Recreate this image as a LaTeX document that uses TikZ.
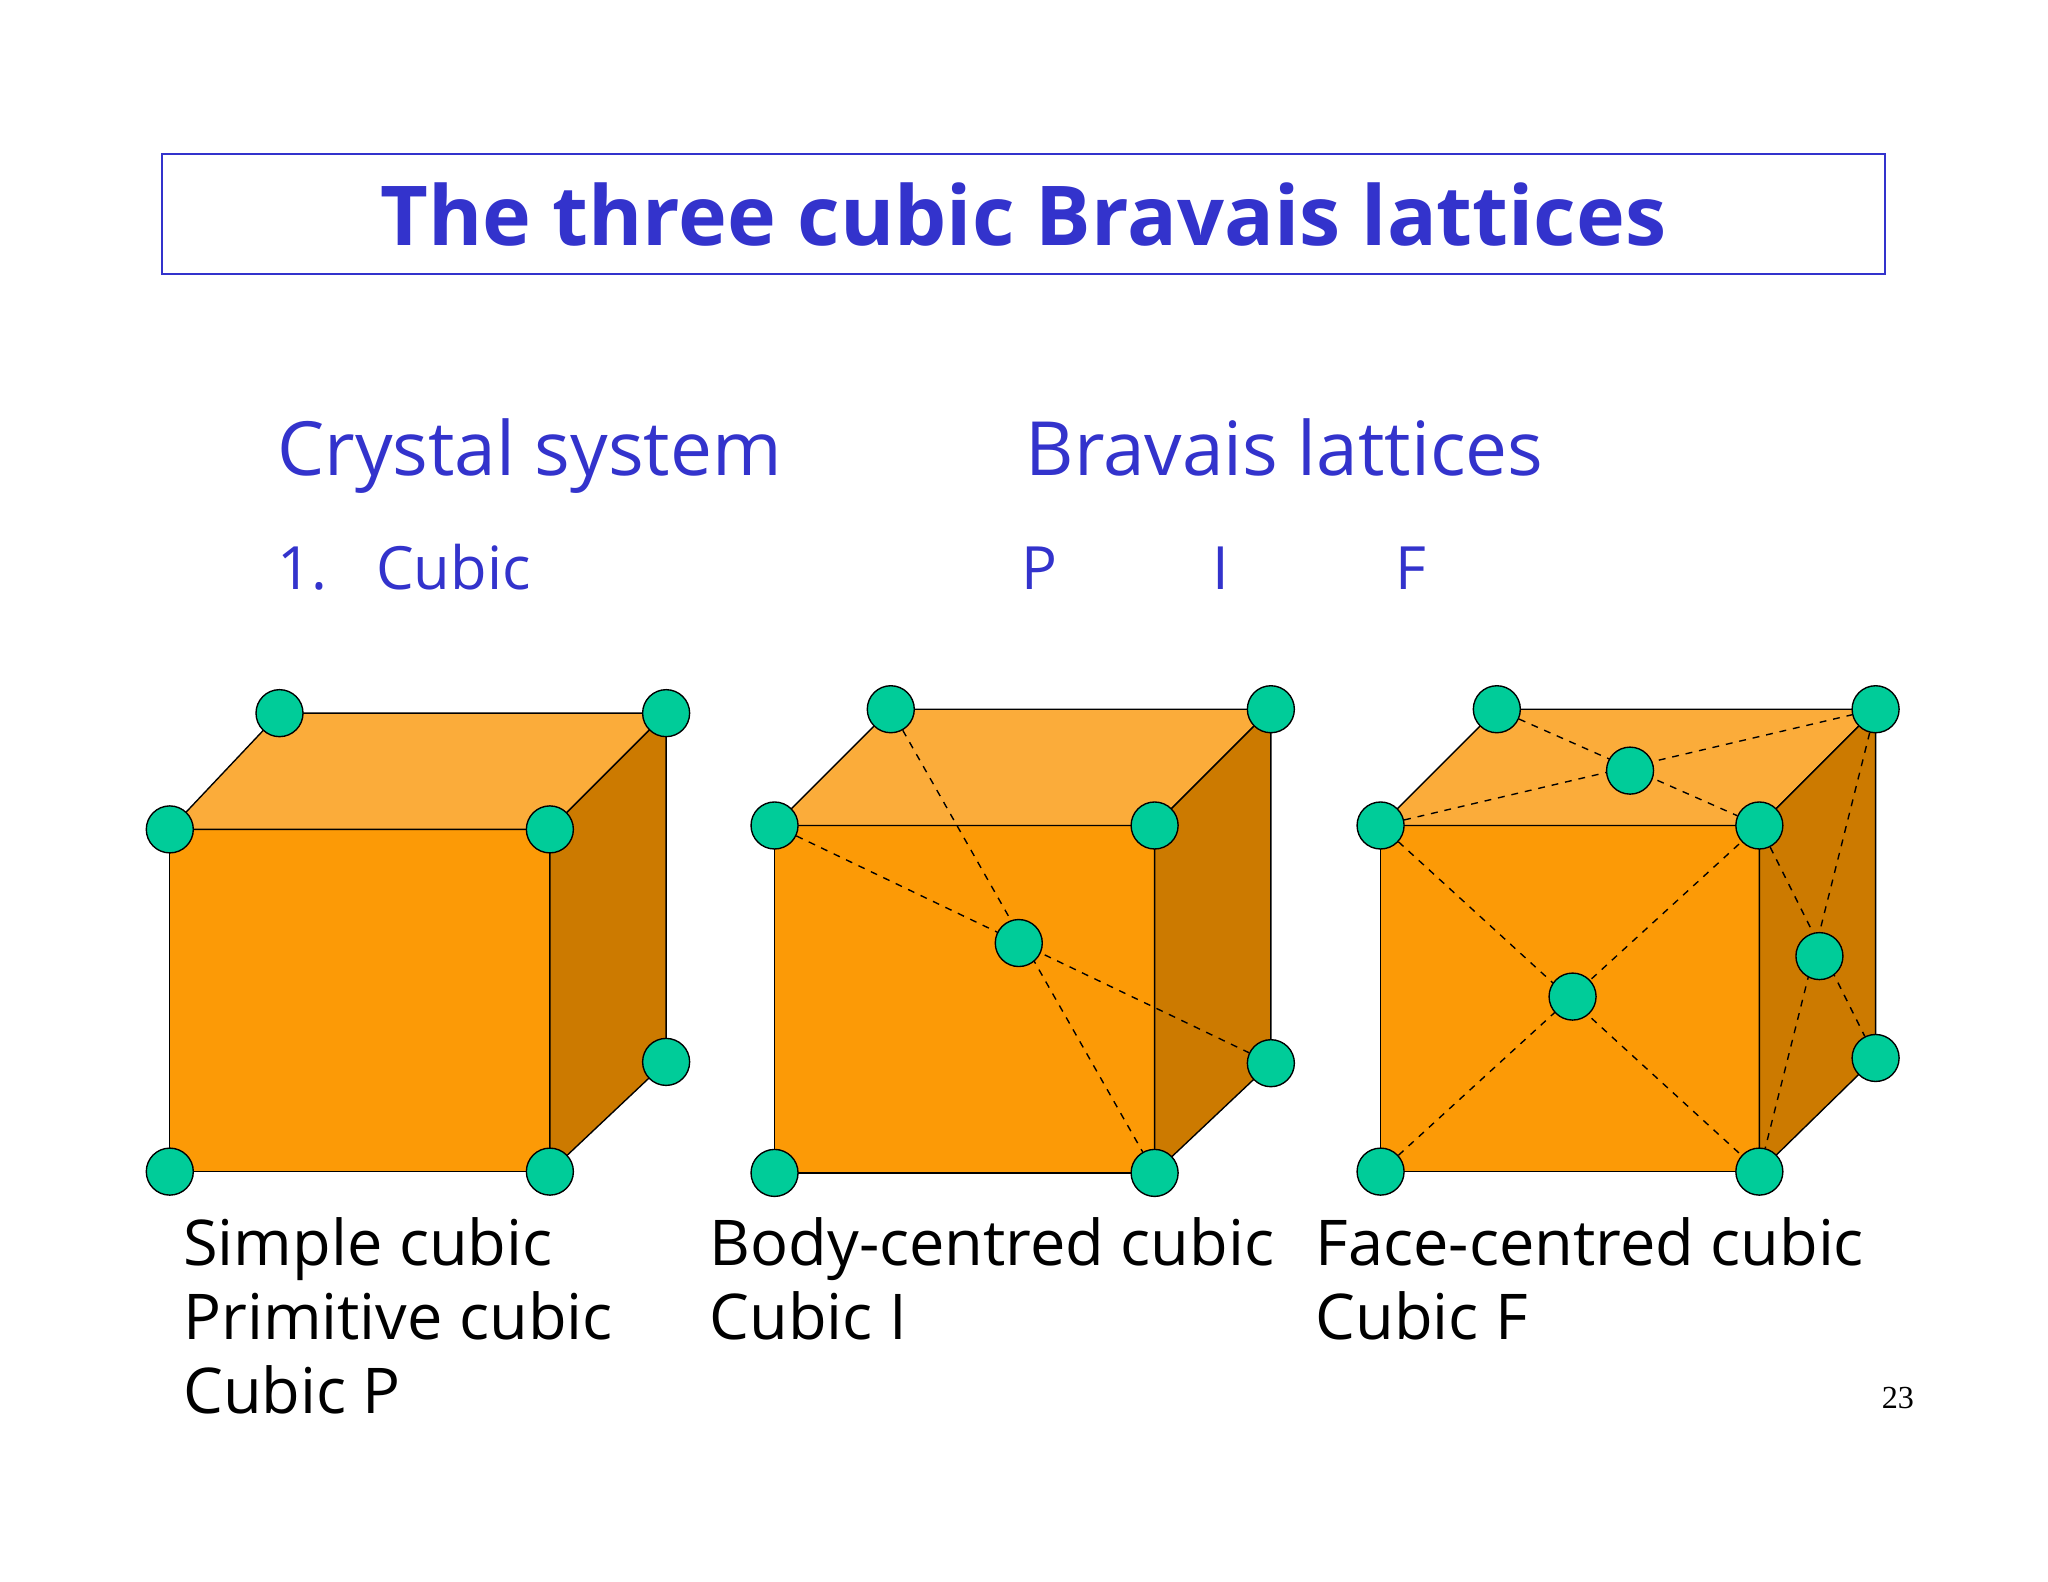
\documentclass[tikz,border=0pt]{standalone}
\usepackage{fontspec}
\setmainfont{Open Sans}
\newfontfamily\serif{Liberation Serif}
\definecolor{tblue}{HTML}{3333CC}
\definecolor{ofront}{HTML}{FC9A06}
\definecolor{otop}{HTML}{FBAC3A}
\definecolor{oside}{HTML}{CC7A00}
\definecolor{atomc}{HTML}{00CC99}
\begin{document}
\begin{tikzpicture}[x=0.02cm,y=-0.02cm,
  atom/.style={circle,draw=black,fill=atomc,minimum size=0.72cm,inner sep=0pt,line width=0.6pt},
  face/.style={draw=black,line width=0.6pt},
  dsh/.style={dashed,line width=0.6pt},
  lab/.style={anchor=north west,align=left,font=\fontsize{27.5}{32.3}\selectfont,inner sep=0pt}]
\useasboundingbox[fill=white] (0,0) rectangle (1568,1211);
% title
\node[draw=tblue,line width=0.8pt,minimum width=26.38cm,minimum height=1.84cm,text=tblue,font=\fontsize{36}{42}\selectfont\bfseries] (title) at (783.5,164) {The three cubic Bravais lattices};
\node[anchor=base west,text=tblue,font=\fontsize{32.6}{38}\selectfont,inner sep=0pt] (cs) at (212,364) {Crystal system};
\node[anchor=base west,text=tblue,font=\fontsize{32.6}{38}\selectfont,inner sep=0pt] (bl) at (785,364) {Bravais lattices};
\node[anchor=base west,text=tblue,font=\fontsize{26}{32}\selectfont,inner sep=0pt] (c1) at (212,451) {1.\hspace{0.75cm}Cubic};
\node[anchor=base west,text=tblue,font=\fontsize{26}{32}\selectfont,inner sep=0pt] (lp) at (782,451) {P};
\node[anchor=base west,text=tblue,font=\fontsize{26}{32}\selectfont,inner sep=0pt] (li) at (928,451) {I};
\node[anchor=base west,text=tblue,font=\fontsize{26}{32}\selectfont,inner sep=0pt] (lf) at (1068,451) {F};
% cube 1
\fill[ofront,face] (130,635) rectangle (421,897);
\filldraw[fill=otop,face] (130,635) -- (214,546) -- (510,546) -- (421,635) -- cycle;
\filldraw[fill=oside,face] (421,635) -- (510,546) -- (510,813) -- (421,897) -- cycle;
\node[atom] (a1) at (130,635) {}; \node[atom] (a2) at (421,635) {};
\node[atom] (a3) at (130,897) {}; \node[atom] (a4) at (421,897) {};
\node[atom] (a5) at (214,546) {}; \node[atom] (a6) at (510,546) {};
\node[atom] (a7) at (510,813) {};
% cube 2
\fill[ofront,face] (593,632) rectangle (884,898);
\filldraw[fill=otop,face] (593,632) -- (682,543) -- (973,543) -- (884,632) -- cycle;
\filldraw[fill=oside,face] (884,632) -- (973,543) -- (973,814) -- (884,898) -- cycle;
\node[atom] (b1) at (593,632) {}; \node[atom] (b2) at (884,632) {};
\node[atom] (b3) at (593,898) {}; \node[atom] (b4) at (884,898) {};
\node[atom] (b5) at (682,543) {}; \node[atom] (b6) at (973,543) {};
\node[atom] (b7) at (973,814) {};
\draw[dsh] (b5) -- (b4); \draw[dsh] (b1) -- (b7);
\node[atom] (bc) at (780,722) {};
% cube 3
\fill[ofront,face] (1057,632) rectangle (1347,897);
\filldraw[fill=otop,face] (1057,632) -- (1146,543) -- (1436,543) -- (1347,632) -- cycle;
\filldraw[fill=oside,face] (1347,632) -- (1436,543) -- (1436,810) -- (1347,897) -- cycle;
\node[atom] (c1a) at (1057,632) {}; \node[atom] (c2) at (1347,632) {};
\node[atom] (c3) at (1057,897) {}; \node[atom] (c4) at (1347,897) {};
\node[atom] (c5) at (1146,543) {}; \node[atom] (c6) at (1436,543) {};
\node[atom] (c7) at (1436,810) {};
\draw[dsh] (c5) -- (c2); \draw[dsh] (c1a) -- (c6);
\draw[dsh] (c1a) -- (c4); \draw[dsh] (c3) -- (c2);
\draw[dsh] (c2) -- (c7); \draw[dsh] (c6) -- (c4);
\node[atom] (ft) at (1248,590) {};
\node[atom] (ff) at (1204,763) {};
\node[atom] (fr) at (1393,732) {};
% labels
\node[lab] (l1) at (140,932) {Simple cubic\\Primitive cubic\\Cubic P};
\node[lab] (l2) at (543,932) {Body-centred cubic\\Cubic I};
\node[lab] (l3) at (1007,932) {Face-centred cubic\\Cubic F};
\node[font=\serif\fontsize{14}{16}\selectfont] (pg) at (1453,1070) {23};
\end{tikzpicture}
\end{document}
